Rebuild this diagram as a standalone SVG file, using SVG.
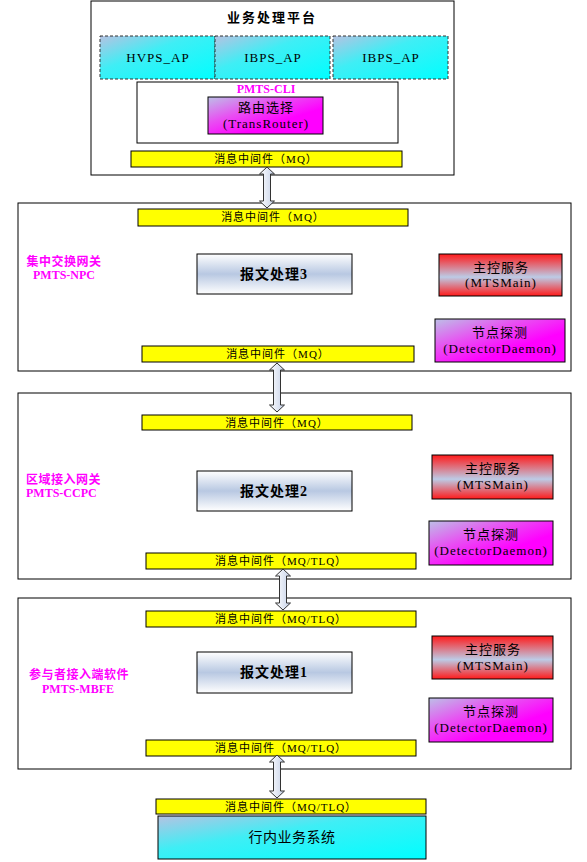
<svg xmlns="http://www.w3.org/2000/svg" width="587" height="862" viewBox="0 0 587 862">
<defs>
<linearGradient id="gCyan" x1="0" y1="0" x2="1" y2="1"><stop offset="0" stop-color="#b6c2e2"/><stop offset="0.4" stop-color="#3feef5"/><stop offset="1" stop-color="#00ffff"/></linearGradient>
<linearGradient id="gMag" x1="0" y1="0" x2="1" y2="1"><stop offset="0" stop-color="#bcc0e6"/><stop offset="0.35" stop-color="#e850f2"/><stop offset="0.65" stop-color="#ff00ff"/><stop offset="1" stop-color="#ff00ff"/></linearGradient>
<linearGradient id="gRed" x1="0" y1="0" x2="0" y2="1"><stop offset="0" stop-color="#ff1a1a"/><stop offset="0.55" stop-color="#bccbe6"/><stop offset="1" stop-color="#ff1a1a"/></linearGradient>
<linearGradient id="gBlue" x1="0" y1="0" x2="0" y2="1"><stop offset="0" stop-color="#ffffff"/><stop offset="0.5" stop-color="#b8c8e2"/><stop offset="1" stop-color="#ffffff"/></linearGradient>
<linearGradient id="gArrow" x1="0" y1="0" x2="1" y2="0"><stop offset="0" stop-color="#ffffff"/><stop offset="1" stop-color="#c4d0e8"/></linearGradient>
</defs>
<style>
.frame{fill:#ffffff;stroke:#000;stroke-width:1}
.mq{fill:#ffff00;stroke:#000;stroke-width:1}
.ap{fill:url(#gCyan);stroke:#333;stroke-width:1;stroke-dasharray:3 2}
.cyan{fill:url(#gCyan);stroke:#000;stroke-width:1}
.mag{fill:url(#gMag);stroke:#000;stroke-width:1}
.red{fill:url(#gRed);stroke:#000;stroke-width:1}
.proc{fill:url(#gBlue);stroke:#000;stroke-width:1}
.arr{fill:url(#gArrow);stroke:#333;stroke-width:1}
text{font-family:"Liberation Serif","Noto Sans CJK SC",serif;text-anchor:middle;fill:#000}
.t13{font-size:13px;letter-spacing:1px}
.t11{font-size:11px;letter-spacing:1px}
.title{font-size:13px;font-weight:bold;letter-spacing:2px}
.lbl{font-size:12px;font-weight:bold;fill:#ff00ff;letter-spacing:0.5px}
.pb{font-size:14px;font-weight:bold;letter-spacing:1px}
</style>

<g id="platform">
<rect class="frame" x="91" y="1" width="363" height="174"/>
<text class="title" x="272" y="22">业务处理平台</text>
</g>
<g id="hvps_ap"><rect class="ap" x="100" y="36" width="115" height="43"/><text class="t13" x="158" y="62">HVPS_AP</text></g>
<g id="ibps_ap1"><rect class="ap" x="215" y="36" width="115" height="43"/><text class="t13" x="273" y="62">IBPS_AP</text></g>
<g id="ibps_ap2"><rect class="ap" x="333" y="36" width="115" height="43"/><text class="t13" x="391" y="62">IBPS_AP</text></g>
<g id="pmts_cli">
<rect class="frame" x="137" y="82" width="261" height="61"/>
<text class="lbl" x="266" y="93" style="letter-spacing:0">PMTS-CLI</text>
</g>
<g id="transrouter"><rect class="mag" x="208" y="97" width="115" height="37"/><text class="t13" x="266" y="112">路由选择</text><text class="t13" x="266" y="128">(TransRouter)</text></g>
<g id="mq_cli"><rect class="mq" x="131" y="151" width="271" height="16"/><text class="t11" x="266" y="163">消息中间件（MQ）</text></g>

<g id="npc">
<rect class="frame" x="18" y="203" width="553" height="168"/>
<text class="lbl" x="64" y="266">集中交换网关</text>
<text class="lbl" x="64" y="279" style="letter-spacing:0">PMTS-NPC</text>
</g>
<g id="npc_mq_top"><rect class="mq" x="138" y="209" width="270" height="17"/><text class="t11" x="273" y="221">消息中间件（MQ）</text></g>
<g id="npc_proc"><rect class="proc" x="197" y="254" width="155" height="40"/><text class="pb" x="274" y="279">报文处理3</text></g>
<g id="npc_main"><rect class="red" x="439" y="254" width="123" height="42"/><text class="t13" x="501" y="271.5">主控服务</text><text class="t13" x="501" y="287">(MTSMain)</text></g>
<g id="npc_det"><rect class="mag" x="435" y="319" width="130" height="43"/><text class="t13" x="500" y="336.5">节点探测</text><text class="t13" x="500" y="353">(DetectorDaemon)</text></g>
<g id="npc_mq_bot"><rect class="mq" x="142" y="346" width="272" height="16"/><text class="t11" x="278" y="358">消息中间件（MQ）</text></g>

<g id="ccpc">
<rect class="frame" x="18" y="393" width="553" height="186"/>
<text class="lbl" x="26" y="484" style="text-anchor:start">区域接入网关</text>
<text class="lbl" x="26" y="497" style="text-anchor:start;letter-spacing:0">PMTS-CCPC</text>
</g>
<g id="ccpc_mq_top"><rect class="mq" x="142" y="415" width="270" height="15"/><text class="t11" x="277" y="427">消息中间件（MQ）</text></g>
<g id="ccpc_proc"><rect class="proc" x="197" y="471" width="155" height="40"/><text class="pb" x="274" y="496">报文处理2</text></g>
<g id="ccpc_main"><rect class="red" x="432" y="455" width="121" height="44"/><text class="t13" x="493" y="472.5">主控服务</text><text class="t13" x="493" y="489">(MTSMain)</text></g>
<g id="ccpc_det"><rect class="mag" x="429" y="521" width="124" height="44"/><text class="t13" x="491" y="538.5">节点探测</text><text class="t13" x="491" y="555">(DetectorDaemon)</text></g>
<g id="ccpc_mq_bot"><rect class="mq" x="146" y="553" width="270" height="16"/><text class="t11" x="281" y="565">消息中间件（MQ/TLQ）</text></g>

<g id="mbfe">
<rect class="frame" x="18" y="598" width="553" height="171"/>
<text class="lbl" x="79" y="679">参与者接入端软件</text>
<text class="lbl" x="78" y="693" style="letter-spacing:0">PMTS-MBFE</text>
</g>
<g id="mbfe_mq_top"><rect class="mq" x="146" y="611" width="270" height="16"/><text class="t11" x="281" y="623">消息中间件（MQ/TLQ）</text></g>
<g id="mbfe_main"><rect class="red" x="432" y="636" width="121" height="43"/><text class="t13" x="493" y="653.5">主控服务</text><text class="t13" x="493" y="670">(MTSMain)</text></g>
<g id="mbfe_proc"><rect class="proc" x="197" y="652" width="155" height="41"/><text class="pb" x="274" y="677">报文处理1</text></g>
<g id="mbfe_det"><rect class="mag" x="429" y="698" width="124" height="44"/><text class="t13" x="491" y="715.5">节点探测</text><text class="t13" x="491" y="732">(DetectorDaemon)</text></g>
<g id="mbfe_mq_bot"><rect class="mq" x="146" y="740" width="270" height="16"/><text class="t11" x="281" y="752">消息中间件（MQ/TLQ）</text></g>

<g id="bank_mq"><rect class="mq" x="156" y="799" width="270" height="15"/><text class="t11" x="291" y="811">消息中间件（MQ/TLQ）</text></g>
<g id="bank_sys"><rect class="cyan" x="158" y="816" width="268" height="43"/><text class="t13" x="292" y="842" style="font-size:14px;letter-spacing:0.5px">行内业务系统</text></g>

<g id="connectors">
<path class="arr" d="M267,167 L274.5,174 L270.5,174 L270.5,201 L274.5,201 L267,208 L259.5,201 L263.5,201 L263.5,174 L259.5,174 Z"/>
<path class="arr" d="M277,363 L284.5,370 L280.5,370 L280.5,405 L284.5,405 L277,412 L269.5,405 L273.5,405 L273.5,370 L269.5,370 Z"/>
<path class="arr" d="M283,569 L290.5,576 L286.5,576 L286.5,603 L290.5,603 L283,610 L275.5,603 L279.5,603 L279.5,576 L275.5,576 Z"/>
<path class="arr" d="M277,755 L284.5,762 L280.5,762 L280.5,791 L284.5,791 L277,798 L269.5,791 L273.5,791 L273.5,762 L269.5,762 Z"/>
</g>
</svg>
